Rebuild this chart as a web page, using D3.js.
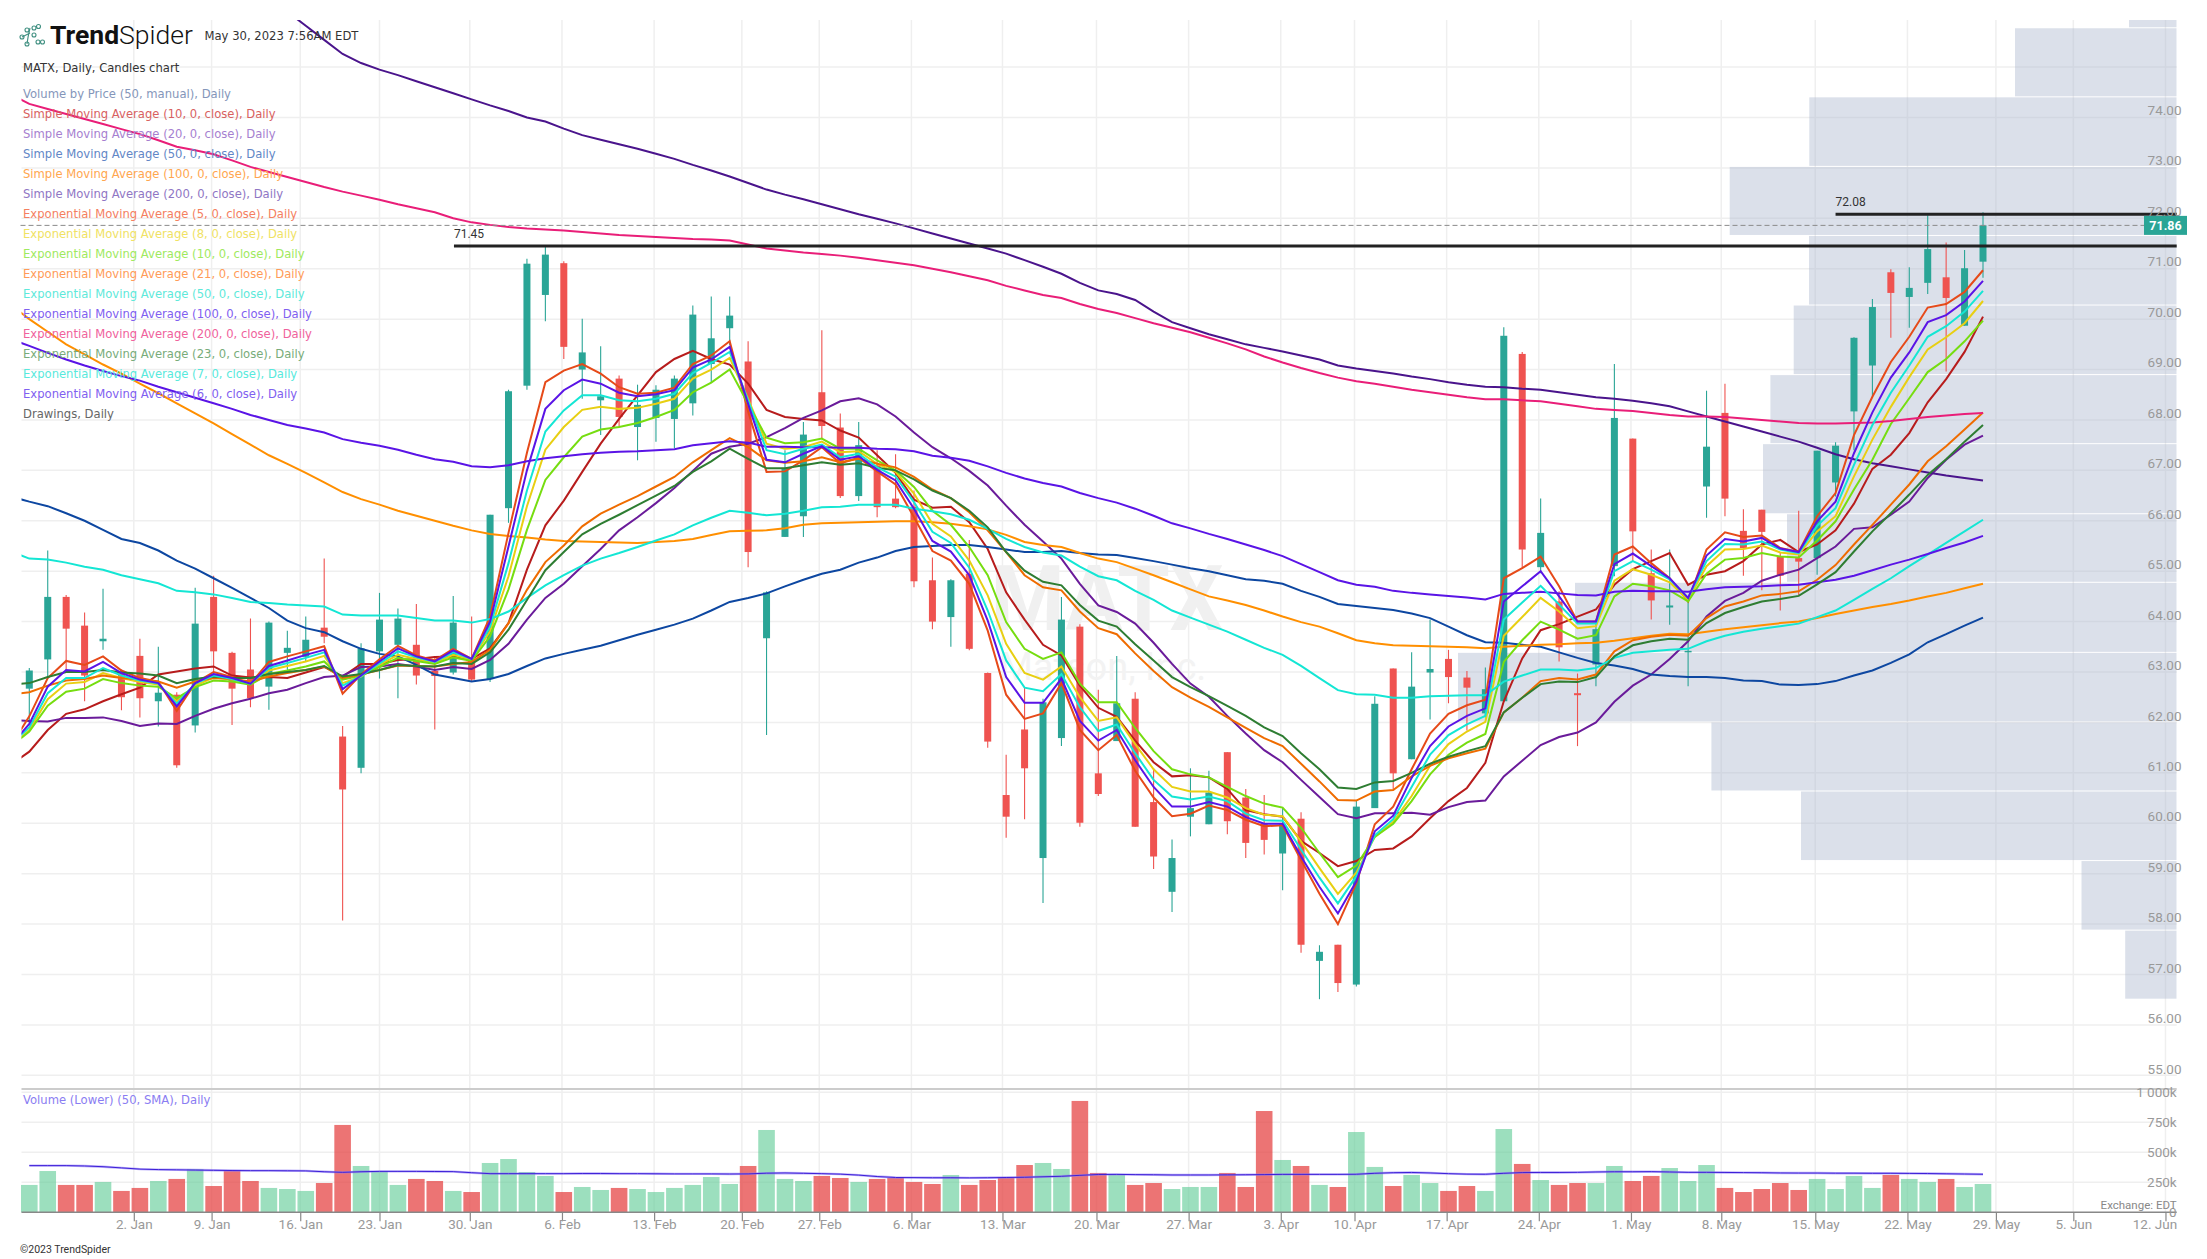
<!DOCTYPE html>
<html>
<head>
<meta charset="utf-8">
<title>MATX, Daily, Candles chart</title>
<script src="https://cdnjs.cloudflare.com/ajax/libs/d3/7.8.5/d3.min.js"></script>
<style>
	body { margin: 0; background: #fff; }
	text { font-family: Roboto, sans-serif; }
	.legend text { font-family: "DejaVu Sans", sans-serif; font-size: 11.6px; }
	.axis path { display: none; }
	.axis text { fill: #999; font-size: 13.5px; }
</style>
</head>
<body>
<script>
// candles, one entry per trading day, 27 Dec 2022 up to 26 May 2023
var opens = [62.67,63.25,64.49,63.92,63.61,63.0,63.32,62.42,62.55,61.94,
	64.49,63.38,63.05,62.71,63.38,63.3,63.88,61.72,61.1,63.41,
	63.54,63.54,63.02,62.99,63.24,62.86,66.25,68.68,70.48,71.11,
	69.0,68.39,68.82,67.86,68.04,68.02,68.33,69.11,69.82,69.16,
	63.67,65.68,66.09,68.55,67.85,66.49,67.1,66.44,66.28,64.82,
	64.09,64.95,62.98,60.56,61.86,59.31,61.69,63.9,60.99,61.63,
	62.47,60.42,58.64,60.13,59.98,61.41,60.51,60.0,59.4,60.09,
	57.27,57.59,56.8,60.3,63.07,61.27,62.99,63.26,62.89,62.18,
	62.42,69.31,65.08,64.4,62.58,63.15,65.1,67.63,64.96,64.28,
	63.39,66.68,68.14,65.8,66.22,65.29,65.26,65.26,66.76,68.17,
	69.08,70.93,70.44,70.72,70.83,69.87,71.14];
var closes = [63.03,64.49,63.86,62.93,63.66,62.5,62.48,62.59,61.15,63.96,
	63.41,62.67,62.48,63.98,63.48,63.64,63.7,60.67,63.47,64.04,
	64.06,62.93,62.92,63.98,62.85,66.12,68.57,71.1,71.28,69.45,
	69.34,68.47,68.06,68.3,68.6,68.82,70.09,69.62,70.07,65.38,
	64.58,67.05,67.71,67.88,66.49,67.5,66.27,66.27,64.8,64.0,
	64.82,63.46,61.62,60.13,61.09,62.4,64.04,60.01,60.58,62.38,
	59.93,59.34,59.31,60.3,60.61,60.04,59.61,59.67,59.98,57.59,
	57.45,56.83,60.33,62.37,60.99,62.71,63.06,62.9,62.69,62.66,
	69.67,65.43,65.76,63.49,62.54,63.85,68.04,65.79,64.42,64.32,
	63.42,67.47,66.44,65.46,65.78,64.91,65.19,67.39,67.49,69.63,
	70.24,70.52,70.62,71.39,70.42,71.01,71.86];
var highs = [63.08,65.41,64.53,64.18,64.65,63.05,63.66,63.5,62.6,64.67,
	64.91,63.4,64.06,64.0,63.82,64.1,65.25,61.93,63.57,64.57,
	64.26,64.35,63.3,64.51,64.1,66.12,68.6,71.2,71.45,71.15,
	70.01,69.46,68.88,68.7,68.69,68.88,70.27,70.45,70.45,69.56,
	64.6,67.4,67.96,69.78,68.13,67.96,67.4,67.32,66.6,65.27,
	64.84,65.62,62.99,61.36,62.7,62.47,64.49,63.95,62.65,63.32,
	62.6,61.09,59.68,61.09,61.04,61.41,60.68,60.56,60.3,60.22,
	57.58,57.59,60.44,62.52,63.07,63.39,64.04,63.44,63.02,63.09,
	69.84,69.35,66.44,64.6,62.97,64.04,69.11,67.63,65.43,65.43,
	64.4,68.58,68.72,66.23,66.22,65.36,66.2,67.39,67.56,69.64,
	70.4,70.99,71.03,72.06,71.52,71.37,72.12];
var lows = [61.99,62.88,62.98,62.42,63.44,62.24,62.1,61.92,61.1,61.8,
	62.9,61.95,62.3,62.25,62.98,63.2,63.57,58.07,60.99,62.87,
	62.48,62.75,61.86,62.95,62.8,62.8,65.96,68.6,69.96,69.21,
	68.42,67.7,67.86,67.2,67.57,67.44,68.09,68.75,69.48,65.08,
	61.75,65.68,65.68,67.63,66.45,66.39,66.07,66.25,64.68,63.85,
	63.5,63.43,61.5,59.71,60.08,58.42,61.53,59.93,60.54,61.63,
	59.93,59.09,58.24,59.74,59.98,59.78,59.31,59.38,58.67,57.43,
	56.51,56.65,56.76,60.3,60.68,61.27,62.06,62.38,61.84,62.1,
	62.42,65.06,64.96,63.21,61.53,62.72,64.9,65.2,64.04,63.94,
	62.72,66.06,66.09,64.91,64.62,64.22,64.53,64.93,66.48,67.4,
	68.46,69.63,69.83,70.5,68.96,69.87,70.82];

// volume in thousands and its 50 day average
var volumes = [228,344,228,228,253,178,203,261,278,361,
	219,344,261,203,194,178,244,728,386,344,
	228,278,261,178,169,411,444,336,303,169,
	211,186,203,194,169,203,228,294,236,386,
	686,278,261,303,286,253,278,286,253,236,
	311,228,269,286,394,411,361,928,328,319,
	228,244,194,211,211,328,211,844,436,386,
	228,211,669,378,219,311,244,178,219,178,
	694,403,269,228,244,244,386,261,303,369,
	261,394,203,169,194,244,186,278,194,303,
	203,311,278,253,278,211,236];
var volumeSma = [389,389,389,386,380,370,360,356,354,352,
	350,348,347,347,346,345,338,333,338,341,
	341,341,340,339,330,322,322,322,322,322,
	323,323,322,322,321,320,320,320,319,320,
	326,328,325,322,318,310,298,290,289,288,
	288,287,288,290,292,296,300,308,315,316,
	314,313,311,311,311,312,313,314,316,316,
	316,316,317,325,330,332,328,322,318,317,
	325,331,332,332,333,336,338,338,339,336,
	333,333,332,331,330,328,327,327,326,326,
	325,325,324,323,321,319,317];

// moving averages. first value belongs to the day before the first candle (it gets clipped)
var sma10 = [61.16,
	61.42,61.85,62.17,62.26,62.42,62.56,62.69,62.95,63.01,63.07,
	63.11,62.93,62.89,62.9,62.88,62.99,63.1,62.91,63.16,63.16,
	63.24,63.26,63.3,63.31,63.26,63.47,63.97,65.03,65.91,66.4,
	66.97,67.53,68.02,68.49,68.95,69.21,69.37,69.21,69.1,68.72,
	68.2,68.06,68.02,67.99,67.79,67.65,67.3,66.95,66.42,66.26,
	66.28,65.97,65.44,64.58,64.04,63.54,63.33,62.73,62.29,62.11,
	61.64,61.21,60.93,60.95,60.91,60.68,60.26,60.18,60.13,59.65,
	59.41,59.15,59.25,59.47,59.5,59.74,60.1,60.44,60.7,61.2,
	62.42,63.27,63.83,63.95,64.1,64.24,64.73,65.04,65.2,65.36,
	64.73,64.93,65.0,65.2,65.53,65.62,65.38,65.53,65.81,66.34,
	67.03,67.31,67.74,68.35,68.81,69.35,70.05];
var sma20 = [62.05,
	62.03,62.02,62.09,62.09,62.1,62.03,61.93,61.98,61.97,62.13,
	62.27,62.38,62.47,62.58,62.65,62.78,62.9,62.93,63.1,63.11,
	63.16,63.11,63.04,63.1,63.06,63.24,63.56,64.04,64.47,64.75,
	65.1,65.44,65.81,66.07,66.35,66.65,66.99,67.33,67.47,67.53,
	67.66,67.84,68.04,68.19,68.37,68.43,68.31,68.07,67.75,67.46,
	67.24,66.99,66.7,66.3,65.92,65.59,65.25,64.75,64.32,64.19,
	63.96,63.58,63.16,62.77,62.51,62.13,61.78,61.45,61.21,60.86,
	60.52,60.18,60.1,60.2,60.2,60.21,60.17,60.32,60.42,60.45,
	60.93,61.24,61.55,61.71,61.8,62.0,62.41,62.73,62.95,63.26,
	63.61,64.1,64.41,64.57,64.81,64.93,65.03,65.26,65.49,65.84,
	65.87,66.12,66.38,66.85,67.21,67.51,67.69];
var sma50 = [66.48,
	66.38,66.29,66.15,66.0,65.82,65.64,65.56,65.41,65.21,65.05,
	64.86,64.67,64.47,64.27,64.02,63.87,63.79,63.61,63.46,63.36,
	63.31,63.14,62.95,62.88,62.81,62.86,62.96,63.12,63.27,63.36,
	63.44,63.52,63.63,63.74,63.84,63.94,64.06,64.22,64.39,64.47,
	64.56,64.7,64.83,64.95,65.03,65.17,65.27,65.4,65.48,65.5,
	65.52,65.52,65.48,65.43,65.38,65.38,65.4,65.36,65.33,65.32,
	65.26,65.2,65.13,65.06,65.0,64.92,64.84,64.81,64.75,64.61,
	64.49,64.35,64.31,64.27,64.23,64.16,64.07,63.9,63.73,63.59,
	63.58,63.54,63.5,63.39,63.28,63.18,63.13,63.06,62.95,62.92,
	62.9,62.9,62.88,62.83,62.82,62.75,62.74,62.76,62.82,62.93,
	63.03,63.18,63.35,63.59,63.75,63.92,64.08];
var sma100 = [70.28,
	70.0,69.75,69.5,69.3,69.1,68.92,68.72,68.53,68.33,68.13,
	67.93,67.72,67.51,67.3,67.13,66.95,66.76,66.57,66.43,66.32,
	66.2,66.1,66.0,65.9,65.81,65.74,65.7,65.67,65.63,65.6,
	65.59,65.58,65.57,65.56,65.58,65.6,65.64,65.72,65.79,65.8,
	65.81,65.85,65.92,65.95,65.96,65.97,65.98,65.99,65.99,65.97,
	65.94,65.89,65.83,65.72,65.58,65.52,65.48,65.36,65.25,65.18,
	65.05,64.92,64.78,64.64,64.5,64.42,64.33,64.22,64.1,63.99,
	63.9,63.77,63.63,63.57,63.53,63.52,63.51,63.5,63.49,63.47,
	63.5,63.52,63.54,63.55,63.57,63.58,63.62,63.67,63.72,63.76,
	63.75,63.8,63.85,63.89,63.93,63.97,64.0,64.07,64.15,64.22,
	64.29,64.35,64.42,64.5,64.57,64.66,64.75];
// above the top of the pane until mid January
var sma200 = [null,
	null,null,null,null,null,null,null,null,null,null,
	null,null,null,null,76.1,75.82,75.54,75.26,75.08,74.95,
	74.84,74.72,74.6,74.48,74.36,74.24,74.13,74.0,73.92,73.78,
	73.65,73.56,73.47,73.38,73.28,73.18,73.06,72.95,72.83,72.7,
	72.57,72.47,72.38,72.28,72.18,72.08,71.99,71.9,71.8,71.7,
	71.6,71.5,71.4,71.3,71.17,71.04,70.9,70.72,70.57,70.5,
	70.38,70.15,69.94,69.82,69.7,69.6,69.5,69.43,69.36,69.28,
	69.2,69.08,69.02,68.97,68.92,68.86,68.81,68.75,68.7,68.66,
	68.65,68.62,68.6,68.55,68.5,68.45,68.42,68.38,68.33,68.27,
	68.17,68.07,67.97,67.87,67.77,67.67,67.57,67.45,67.32,67.22,
	67.14,67.08,67.02,66.96,66.9,66.85,66.8];
var ema5 = [61.54,
	62.12,62.88,63.22,63.14,63.31,63.03,62.88,62.81,62.23,62.78,
	63.0,62.9,62.77,63.2,63.31,63.41,63.51,62.57,62.95,63.25,
	63.52,63.33,63.23,63.46,63.26,64.1,65.76,67.35,68.75,68.98,
	69.11,68.92,68.65,68.52,68.54,68.64,69.11,69.28,69.56,68.17,
	66.97,66.98,67.2,67.46,67.14,67.25,66.98,66.72,66.07,65.4,
	65.21,64.75,63.82,62.55,62.07,62.18,62.78,61.85,61.45,61.75,
	61.04,60.51,60.14,60.19,60.35,60.26,60.07,59.94,59.96,59.27,
	58.6,58.0,58.81,59.98,60.33,61.07,61.78,62.17,62.34,62.45,
	64.86,65.06,65.29,64.7,64.0,64.0,65.33,65.49,65.16,64.86,
	64.4,65.43,65.77,65.68,65.71,65.46,65.38,66.09,66.55,67.7,
	68.46,69.15,69.65,70.23,70.3,70.54,70.97];
var ema6 = [61.55,
	61.97,62.71,63.04,63.01,63.2,62.98,62.85,62.78,62.32,62.78,
	62.96,62.88,62.77,63.12,63.23,63.34,63.44,62.66,62.93,63.21,
	63.47,63.31,63.21,63.43,63.26,64.0,65.49,67.0,68.22,68.59,
	68.8,68.72,68.54,68.47,68.51,68.59,69.04,69.2,69.45,68.32,
	67.21,67.16,67.33,67.48,67.21,67.28,67.01,66.8,66.24,65.6,
	65.39,64.92,64.02,62.9,62.39,62.39,62.87,62.03,61.64,61.85,
	61.25,60.72,60.33,60.33,60.42,60.33,60.12,59.99,59.99,59.34,
	58.74,58.21,58.85,59.84,60.15,60.9,61.53,61.92,62.13,62.28,
	64.4,64.7,65.0,64.5,64.0,64.0,65.14,65.35,65.1,64.86,
	64.47,65.31,65.64,65.59,65.66,65.45,65.38,65.99,66.38,67.34,
	68.15,68.84,69.34,69.94,70.08,70.35,70.76];
var ema7 = [61.57,
	61.9,62.58,62.88,62.88,63.08,62.93,62.83,62.77,62.37,62.77,
	62.93,62.86,62.77,63.08,63.18,63.28,63.39,62.73,62.92,63.17,
	63.41,63.29,63.2,63.39,63.26,63.9,65.16,66.6,67.77,68.19,
	68.49,68.49,68.39,68.37,68.42,68.52,68.93,69.13,69.35,68.39,
	67.4,67.32,67.43,67.51,67.26,67.33,67.06,66.88,66.37,65.78,
	65.56,65.07,64.22,63.23,62.69,62.62,62.96,62.3,61.83,61.96,
	61.39,60.86,60.53,60.47,60.53,60.44,60.19,60.06,60.05,59.48,
	58.92,58.41,58.95,59.76,60.08,60.72,61.36,61.75,61.96,62.13,
	64.04,64.38,64.71,64.34,63.96,63.96,65.0,65.2,65.03,64.84,
	64.47,65.2,65.54,65.53,65.59,65.43,65.36,65.9,66.25,67.11,
	67.9,68.54,69.08,69.65,69.86,70.15,70.56];
var ema8 = [61.52,
	61.85,62.46,62.77,62.8,62.98,62.88,62.8,62.75,62.42,62.73,
	62.89,62.85,62.76,63.03,63.12,63.21,63.32,62.78,62.91,63.14,
	63.34,63.26,63.18,63.34,63.24,63.81,64.9,66.29,67.41,67.86,
	68.2,68.26,68.22,68.24,68.32,68.42,68.82,69.0,69.23,68.42,
	67.53,67.43,67.46,67.57,67.36,67.38,67.13,66.97,66.54,65.94,
	65.69,65.21,64.52,63.56,62.98,62.85,63.11,62.5,62.03,62.1,
	61.57,61.07,60.72,60.63,60.63,60.51,60.3,60.17,60.14,59.64,
	59.11,58.6,59.02,59.73,60.03,60.54,61.14,61.57,61.82,62.01,
	63.72,64.09,64.47,64.2,63.87,63.91,64.81,65.04,64.93,64.78,
	64.43,65.1,65.43,65.44,65.51,65.37,65.33,65.79,66.09,66.88,
	67.61,68.26,68.85,69.4,69.64,69.92,70.36];
var ema10 = [61.52,
	61.82,62.33,62.61,62.67,62.86,62.78,62.73,62.71,62.48,62.7,
	62.83,62.81,62.75,62.96,63.03,63.11,63.21,62.85,62.93,63.1,
	63.28,63.22,63.16,63.29,63.22,63.71,64.64,65.82,66.81,67.26,
	67.67,67.81,67.86,67.94,68.06,68.2,68.55,68.74,69.0,68.32,
	67.65,67.54,67.56,67.63,67.43,67.43,67.2,67.0,66.67,66.2,
	65.92,65.48,64.92,63.99,63.46,63.26,63.39,62.77,62.4,62.4,
	61.89,61.43,61.07,60.97,60.91,60.72,60.54,60.39,60.31,59.91,
	59.41,58.93,59.16,59.73,59.99,60.44,60.97,61.36,61.6,61.77,
	63.2,63.63,64.0,63.84,63.66,63.73,64.5,64.75,64.7,64.62,
	64.4,64.95,65.23,65.26,65.36,65.29,65.27,65.61,65.99,66.62,
	67.21,67.92,68.43,68.95,69.21,69.56,69.97];
var ema21 = [62.55,
	62.6,62.73,62.83,62.86,62.93,62.88,62.85,62.81,62.69,62.81,
	62.88,62.86,62.81,62.91,62.98,63.04,63.11,62.88,62.95,63.04,
	63.13,63.12,63.11,63.16,63.2,63.44,63.97,64.63,65.18,65.51,
	65.89,66.14,66.32,66.49,66.68,66.87,67.16,67.4,67.64,67.46,
	67.2,67.15,67.18,67.26,67.16,67.23,67.13,67.06,66.87,66.62,
	66.45,66.17,65.81,65.38,64.92,64.68,64.62,64.2,63.87,63.75,
	63.37,63.02,62.7,62.49,62.31,62.1,61.89,61.69,61.53,61.18,
	60.83,60.46,60.45,60.63,60.66,60.93,61.14,61.29,61.39,61.48,
	62.2,62.49,62.82,62.88,62.85,62.95,63.41,63.63,63.7,63.74,
	63.72,64.07,64.3,64.4,64.52,64.55,64.6,64.83,65.12,65.53,
	65.92,66.32,66.72,67.18,67.48,67.81,68.15];
var ema23 = [62.75,
	62.78,62.9,63.0,63.0,63.04,62.99,62.97,62.93,62.78,62.86,
	62.91,62.88,62.88,62.96,63.0,63.04,63.12,62.91,62.96,63.04,
	63.14,63.12,63.11,63.18,63.16,63.39,63.84,64.43,65.02,65.38,
	65.73,65.94,66.12,66.31,66.5,66.69,66.97,67.18,67.43,67.23,
	67.04,67.04,67.1,67.16,67.11,67.14,67.05,67.0,66.82,66.6,
	66.45,66.2,65.87,65.38,65.01,64.79,64.72,64.33,64.02,63.9,
	63.55,63.23,62.9,62.7,62.52,62.33,62.13,61.9,61.73,61.39,
	61.07,60.71,60.68,60.81,60.84,61.0,61.18,61.32,61.43,61.53,
	62.2,62.49,62.76,62.81,62.8,62.9,63.31,63.53,63.61,63.66,
	63.64,63.97,64.17,64.29,64.4,64.45,64.51,64.74,64.98,65.39,
	65.79,66.15,66.52,66.91,67.22,67.57,67.9];
var ema50 = [65.39,
	65.25,65.23,65.17,65.09,65.03,64.92,64.84,64.76,64.61,64.58,
	64.54,64.47,64.39,64.37,64.34,64.32,64.3,64.14,64.12,64.12,
	64.12,64.07,64.02,64.02,63.98,64.05,64.2,64.47,64.72,64.92,
	65.11,65.25,65.36,65.48,65.61,65.73,65.91,66.06,66.2,66.16,
	66.11,66.14,66.2,66.27,66.28,66.32,66.32,66.32,66.24,66.19,
	66.13,66.02,65.84,65.64,65.48,65.37,65.31,65.09,64.9,64.82,
	64.61,64.43,64.22,64.08,63.94,63.8,63.64,63.48,63.34,63.12,
	62.88,62.64,62.56,62.55,62.49,62.49,62.52,62.53,62.54,62.54,
	62.81,62.93,63.05,63.05,63.03,63.08,63.28,63.38,63.41,63.44,
	63.46,63.61,63.72,63.8,63.86,63.91,63.96,64.09,64.22,64.43,
	64.65,64.86,65.1,65.33,65.56,65.79,66.02];
var ema100 = [69.6,
	69.47,69.33,69.2,69.08,68.97,68.87,68.78,68.66,68.55,68.44,
	68.33,68.22,68.1,68.0,67.9,67.83,67.75,67.62,67.55,67.49,
	67.41,67.31,67.22,67.17,67.08,67.06,67.1,67.18,67.24,67.28,
	67.32,67.35,67.37,67.38,67.4,67.42,67.5,67.54,67.58,67.55,
	67.47,67.47,67.46,67.46,67.45,67.45,67.43,67.42,67.38,67.29,
	67.25,67.19,67.08,66.95,66.84,66.75,66.68,66.55,66.45,66.36,
	66.24,66.1,65.95,65.85,65.74,65.64,65.53,65.42,65.3,65.14,
	64.98,64.82,64.73,64.69,64.61,64.57,64.54,64.51,64.48,64.44,
	64.55,64.57,64.59,64.56,64.53,64.52,64.59,64.61,64.6,64.6,
	64.59,64.64,64.68,64.69,64.7,64.72,64.73,64.78,64.83,64.91,
	65.02,65.13,65.23,65.34,65.46,65.57,65.7];
var ema200 = [74.46,
	74.27,74.17,74.07,73.97,73.87,73.77,73.67,73.55,73.42,73.35,
	73.27,73.15,73.02,72.92,72.82,72.72,72.62,72.53,72.45,72.37,
	72.28,72.2,72.12,72.0,71.92,71.87,71.83,71.8,71.78,71.76,
	71.73,71.7,71.67,71.65,71.63,71.61,71.59,71.58,71.56,71.48,
	71.4,71.36,71.32,71.29,71.26,71.22,71.17,71.12,71.07,71.0,
	70.93,70.85,70.77,70.66,70.57,70.48,70.42,70.3,70.2,70.12,
	70.02,69.92,69.83,69.74,69.63,69.52,69.4,69.26,69.14,69.03,
	68.93,68.84,68.77,68.72,68.66,68.6,68.55,68.5,68.45,68.41,
	68.41,68.39,68.37,68.32,68.27,68.22,68.2,68.18,68.14,68.1,
	68.07,68.07,68.06,68.03,68.0,67.97,67.94,67.93,67.93,67.94,
	67.95,67.98,68.02,68.06,68.09,68.12,68.14];

// volume by price: bin edges in price and bin size
var vbpEdges = [77.15,75.77,74.40,73.02,71.65,70.27,68.89,67.52,66.13,64.77,63.38,62.0,60.63,59.25,57.87,56.5];
var vbpVolume = [477,1617,3674,4470,3677,3830,4063,4137,3897,6017,7187,4653,3757,952,515];

var priceTicks = d3.range(55, 75);
var volumeTicks = [0, 250, 500, 750, 1000];
var volumeTickLabels = ['0', '250k', '500k', '750k', '1 000k'];
// ticks sit between sessions on the compressed trading-day axis
var dateTicks = [5.67,9.89,14.7,19,23.9,28.9,33.9,38.66,42.86,47.86,52.8,57.9,62.9,67.9,71.9,76.9,81.9,86.9,91.8,96.9,101.9,106.7,110.9,115.9];
var dateLabels = ['2. Jan','9. Jan','16. Jan','23. Jan','30. Jan','6. Feb','13. Feb','20. Feb','27. Feb','6. Mar','13. Mar','20. Mar','27. Mar','3. Apr','10. Apr','17. Apr','24. Apr','1. May','8. May','15. May','22. May','29. May','5. Jun','12. Jun'];

var legendRows = [
	['Volume by Price (50, manual), Daily', '#8496ba'],
	['Simple Moving Average (10, 0, close), Daily', '#d8615f'],
	['Simple Moving Average (20, 0, close), Daily', '#a67fd0'],
	['Simple Moving Average (50, 0, close), Daily', '#6286c6'],
	['Simple Moving Average (100, 0, close), Daily', '#ffa64f'],
	['Simple Moving Average (200, 0, close), Daily', '#8f76c4'],
	['Exponential Moving Average (5, 0, close), Daily', '#f4805f'],
	['Exponential Moving Average (8, 0, close), Daily', '#f0e264'],
	['Exponential Moving Average (10, 0, close), Daily', '#a0e95e'],
	['Exponential Moving Average (21, 0, close), Daily', '#ff9b58'],
	['Exponential Moving Average (50, 0, close), Daily', '#5ee9da'],
	['Exponential Moving Average (100, 0, close), Daily', '#7f60f0'],
	['Exponential Moving Average (200, 0, close), Daily', '#f0629c'],
	['Exponential Moving Average (23, 0, close), Daily', '#78ac7a'],
	['Exponential Moving Average (7, 0, close), Daily', '#58e9dc'],
	['Exponential Moving Average (6, 0, close), Daily', '#7f60f0'],
	['Drawings, Daily', '#666666']
];

var averages = [
	{ values: sma10, color: '#b71c1c' },
	{ values: sma20, color: '#6a1b9a' },
	{ values: sma50, color: '#0d47a1' },
	{ values: sma100, color: '#ff8f00' },
	{ values: sma200, color: '#4a148c' },
	{ values: ema5, color: '#e64a19' },
	{ values: ema8, color: '#e8cf12' },
	{ values: ema10, color: '#76dd10' },
	{ values: ema21, color: '#ef6c00' },
	{ values: ema50, color: '#14e6d4' },
	{ values: ema100, color: '#5a14e6' },
	{ values: ema200, color: '#e91e78' },
	{ values: ema23, color: '#2e7d32' },
	{ values: ema7, color: '#14e6d4' },
	{ values: ema6, color: '#5a14e6' }
];

// note: "top" can't be a global in a browser, window.top wins
var width = 2207, height = 1259,
	paneLeft = 21.5, paneRight = 2176.7, paneTop = 20, priceBottom = 1089, volumeBottom = 1212.3,
	upColor = '#2aa596', downColor = '#ef5350';

var svg = d3.select('body').append('svg')
	.attr('width', width)
	.attr('height', height)
	.style('display', 'block');

var x = d3.scaleLinear().domain([0, 106]).range([29.3, 1983]),
	y = d3.scaleLinear().domain([55, 74]).range([1075.3, 117.5]),
	// price labels float a few px above their grid lines, a little more so up top
	yLabel = d3.scaleLinear().domain([55, 74]).range([1069, 110]),
	yVol = d3.scaleLinear().domain([0, 1000]).range([volumeBottom, 1092.3]),
	vbpWidth = d3.scaleLinear().domain([0, 7187]).range([0, 718.7]);

svg.append('clipPath').attr('id', 'pane')
	.append('rect')
	.attr('x', paneLeft).attr('y', paneTop)
	.attr('width', paneRight - paneLeft).attr('height', priceBottom - paneTop);

// -- grid --
var grid = svg.append('g').attr('stroke', '#efefef').attr('stroke-width', 1.5);
grid.selectAll('.v').data(dateTicks).enter().append('line')
	.attr('x1', function(d) { return x(d); })
	.attr('x2', function(d) { return x(d); })
	.attr('y1', paneTop)
	.attr('y2', volumeBottom);
grid.selectAll('.h').data(d3.range(55, 76)).enter().append('line')
	.attr('x1', paneLeft)
	.attr('x2', paneRight)
	.attr('y1', function(d) { return y(d); })
	.attr('y2', function(d) { return y(d); });
grid.selectAll('.hv').data(volumeTicks.slice(1)).enter().append('line')
	.attr('x1', paneLeft)
	.attr('x2', paneRight)
	.attr('y1', function(d) { return yVol(d); })
	.attr('y2', function(d) { return yVol(d); });

// -- watermark, under everything else --
svg.append('text')
	.attr('x', 1107).attr('y', 630)
	.attr('text-anchor', 'middle')
	.attr('textLength', 233)
	.attr('lengthAdjust', 'spacingAndGlyphs')
	.style('font-size', '90px').style('font-weight', 700)
	.attr('fill', '#f0f0f0')
	.text('MATX');
svg.append('text')
	.attr('x', 1103).attr('y', 680)
	.attr('text-anchor', 'middle')
	.style('font-size', '38px')
	.attr('fill', '#f3f3f3')
	.text('Matson, Inc.');

// -- volume by price --
var pane = svg.append('g').attr('clip-path', 'url(#pane)');
pane.selectAll('.vbp').data(vbpVolume).enter().append('rect')
	.attr('x', function(d) { return paneRight - vbpWidth(d); })
	.attr('width', function(d) { return vbpWidth(d); })
	.attr('y', function(d, i) { return y(vbpEdges[i]); })
	.attr('height', function(d, i) { return y(vbpEdges[i + 1]) - y(vbpEdges[i]) - 1; })
	.attr('fill', '#a9b6cc')
	.attr('fill-opacity', 0.42);

// -- candles --
var candles = pane.selectAll('.candle').data(opens).enter().append('g');
candles.append('line')
	.attr('x1', function(d, i) { return x(i); })
	.attr('x2', function(d, i) { return x(i); })
	.attr('y1', function(d, i) { return y(highs[i]); })
	.attr('y2', function(d, i) { return y(lows[i]); })
	.attr('stroke-width', 1.1)
	.attr('stroke', function(d, i) { return closes[i] >= d ? upColor : downColor; });
candles.append('rect')
	.attr('x', function(d, i) { return x(i) - 3.5; })
	.attr('width', 7)
	.attr('y', function(d, i) { return y(Math.max(d, closes[i])); })
	.attr('height', function(d, i) { return Math.max(1.5, Math.abs(y(d) - y(closes[i]))); })
	.attr('fill', function(d, i) { return closes[i] >= d ? upColor : downColor; });

// -- moving averages --
var avgLine = d3.line()
	.defined(function(d) { return d !== null; })
	.x(function(d, i) { return x(i - 1); })
	.y(function(d) { return y(d); });
pane.selectAll('.avg').data(averages).enter().append('path')
	.attr('d', function(d) { return avgLine(d.values); })
	.attr('fill', 'none')
	.attr('stroke', function(d) { return d.color; })
	.attr('stroke-width', 2);

// -- drawings and last price --
var drawings = [[23.04, 71.45], [98, 72.08]];
svg.selectAll('.drawing').data(drawings).enter().append('line')
	.attr('x1', function(d) { return x(d[0]); })
	.attr('x2', paneRight)
	.attr('y1', function(d) { return y(d[1]); })
	.attr('y2', function(d) { return y(d[1]); })
	.attr('stroke', '#222')
	.attr('stroke-width', 3);
svg.selectAll('.drawingLabel').data(drawings).enter().append('text')
	.attr('x', function(d) { return x(d[0]); })
	.attr('y', function(d) { return y(d[1]) - 8; })
	.attr('fill', '#333')
	.style('font-size', '12px')
	.text(function(d) { return d[1].toFixed(2); });

var lastPrice = closes[closes.length - 1];
svg.append('line')
	.attr('x1', paneLeft - 1).attr('x2', paneRight)
	.attr('y1', y(lastPrice)).attr('y2', y(lastPrice))
	.attr('stroke', '#8a8a8a')
	.attr('stroke-dasharray', '5,3');

// -- volume pane --
svg.selectAll('.vol').data(volumes).enter().append('rect')
	.attr('x', function(d, i) { return x(i) - 8.3; })
	.attr('width', 16.6)
	.attr('y', function(d) { return yVol(d); })
	.attr('height', function(d) { return volumeBottom - yVol(d); })
	.attr('fill', function(d, i) { return closes[i] >= opens[i] ? '#5fcb96' : '#e53e3e'; })
	.attr('fill-opacity', function(d, i) { return closes[i] >= opens[i] ? 0.62 : 0.72; });

var smaLine = d3.line()
	.x(function(d, i) { return x(i); })
	.y(function(d) { return yVol(d); });
svg.append('path').attr('d', smaLine(volumeSma))
	.attr('fill', 'none').attr('stroke', '#8f7cf5').attr('stroke-width', 2.4).attr('stroke-opacity', 0.6);
svg.append('path').attr('d', smaLine(volumeSma))
	.attr('fill', 'none').attr('stroke', '#3d1fd8').attr('stroke-width', 1);

svg.append('line')
	.attr('x1', paneLeft).attr('x2', paneRight)
	.attr('y1', priceBottom).attr('y2', priceBottom)
	.attr('stroke', '#cccccc').attr('stroke-width', 2);
svg.append('line')
	.attr('x1', paneLeft).attr('x2', paneRight)
	.attr('y1', volumeBottom).attr('y2', volumeBottom)
	.attr('stroke', '#888').attr('stroke-width', 1.6);

// -- axes --
var xAxis = svg.append('g').attr('class', 'axis')
	.attr('transform', 'translate(0,' + volumeBottom + ')')
	.call(d3.axisBottom(x).tickValues(dateTicks)
		.tickFormat(function(d, i) { return dateLabels[i]; })
		.tickSize(9).tickPadding(-2));
xAxis.selectAll('line').attr('stroke', '#888').attr('stroke-width', 1.2);
xAxis.selectAll('text').filter(function(d, i) { return i === dateTicks.length - 1; })
	.attr('text-anchor', 'end').attr('x', paneRight - x(115.9));

var yAxis = svg.append('g').attr('class', 'axis')
	.attr('transform', 'translate(2181.5,0)')
	.call(d3.axisLeft(yLabel).tickValues(priceTicks)
		.tickFormat(d3.format('.2f')).tickSize(0).tickPadding(0));

var volAxis = svg.append('g').attr('class', 'axis')
	.attr('transform', 'translate(' + paneRight + ',0)')
	.call(d3.axisLeft(yVol).tickValues(volumeTicks)
		.tickFormat(function(d, i) { return volumeTickLabels[i]; }).tickSize(0).tickPadding(0));

// last price tag, has to stay above the 72.00 label
svg.append('rect')
	.attr('x', 2144).attr('width', 43)
	.attr('y', y(lastPrice) - 9.5).attr('height', 19)
	.attr('fill', upColor);
svg.append('text')
	.attr('x', 2165.5).attr('y', y(lastPrice) + 4.5)
	.attr('text-anchor', 'middle')
	.attr('fill', '#fff')
	.style('font-size', '12.5px').style('font-weight', 700)
	.text(lastPrice.toFixed(2));

// -- header --
var logoDots = [[22,37],[27,30],[34,28],[38.5,26.5],[34,35],[38,42],[42.5,42],[27,44]];
svg.selectAll('.logoDot').data(logoDots).enter().append('circle')
	.attr('cx', function(d) { return d[0]; })
	.attr('cy', function(d) { return d[1]; })
	.attr('r', 2)
	.attr('fill', 'none')
	.attr('stroke', '#3f8f80')
	.attr('stroke-width', 1.1);
svg.append('path')
	.attr('d', 'M22,37 L30,33 M30,28 Q28,36 27,44')
	.attr('fill', 'none').attr('stroke', '#3f8f80').attr('stroke-width', 1.1);

var logo = svg.append('text').attr('x', 50).attr('y', 44).attr('fill', '#111').style('font-size', '26.5px');
logo.append('tspan').style('font-weight', 700).text('Trend');
logo.append('tspan').style('font-weight', 300).text('Spider');

svg.append('text')
	.attr('x', 204.5).attr('y', 40)
	.attr('fill', '#333')
	.style('font-family', '"DejaVu Sans", sans-serif')
	.style('font-size', '11.6px')
	.text('May 30, 2023 7:56AM EDT');

var legend = svg.append('g').attr('class', 'legend');
legend.append('text')
	.attr('x', 23).attr('y', 72)
	.attr('fill', '#333')
	.text('MATX, Daily, Candles chart');
legend.selectAll('.row').data(legendRows).enter().append('text')
	.attr('x', 23)
	.attr('y', function(d, i) { return 98 + i * 20; })
	.attr('fill', function(d) { return d[1]; })
	.text(function(d) { return d[0]; });
legend.append('text')
	.attr('x', 23).attr('y', 1104)
	.attr('fill', '#8a7df2')
	.text('Volume (Lower) (50, SMA), Daily');

svg.append('text')
	.attr('x', paneRight).attr('y', 1209)
	.attr('text-anchor', 'end')
	.attr('fill', '#888')
	.style('font-size', '11.5px')
	.text('Exchange: EDT');
svg.append('text')
	.attr('x', 20).attr('y', 1253)
	.attr('fill', '#333')
	.style('font-size', '10.5px')
	.text('©2023 TrendSpider');
</script>
</body>
</html>
